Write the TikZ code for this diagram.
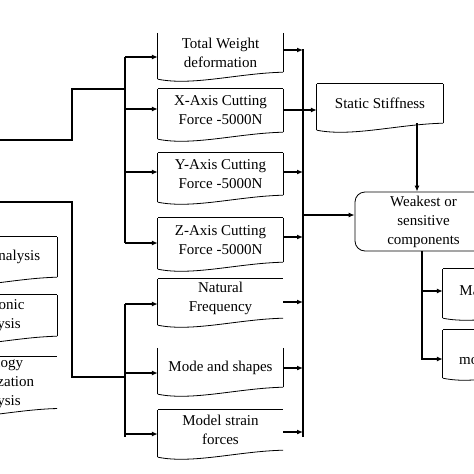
\documentclass[tikz,border=0pt]{standalone}
\usepackage{fontspec}
\setmainfont{Liberation Serif}
\usetikzlibrary{positioning,calc,arrows.meta}

\newcommand{\dtop}[1]{\draw[edge] (#1.north west) -- (#1.north east);}
\newcommand{\dleft}[1]{\draw[edge] (#1.north west) -- ([yshift=-7pt]#1.south west);}
\newcommand{\dright}[1]{\draw[edge] (#1.north east) -- (#1.south east);}
\newcommand{\dwave}[1]{\draw[edge] ([yshift=-7pt]#1.south west) .. controls +(35,7) and +(-45,1) .. (#1.south east);}

\begin{document}
\begin{tikzpicture}[x=1pt, y=-1pt,
		doc/.style={inner sep=0pt, align=center, minimum width=125pt, font=\fontsize{15}{19}\selectfont},
		edge/.style={line width=0.8pt},
		arr/.style={-{Latex[length=6pt,width=5pt]}, line width=1.8pt},
		bus/.style={line width=2.6pt}]
		\useasboundingbox (0,0) rectangle (474,474);
		\clip (0,0) rectangle (474,474);

		\node[doc, minimum height=39pt] (tw) at (220.5,52.5) {Total Weight\\ deformation};
		\node[doc, minimum height=43pt] (xcut) at (220.5,110.5) {X-Axis Cutting\\ Force -5000N};
		\node[doc, minimum height=42pt] (ycut) at (220.5,174) {Y-Axis Cutting\\ Force -5000N};
		\node[doc, minimum height=44pt] (zcut) at (220.5,240) {Z-Axis Cutting\\ Force -5000N};
		\node[doc, minimum height=39pt] (nat) at (220.5,298.5) {Natural\\ Frequency};
		\node[doc, minimum height=39pt] (mode) at (220.5,367.5) {Mode and shapes};
		\node[doc, minimum height=40pt] (strain) at (220.5,430) {Model strain\\ forces};
		\node[doc, minimum height=39pt, minimum width=126pt] (stat) at (380,103.5) {Static Stiffness};
		\node[doc, minimum height=59pt, minimum width=137pt, draw, edge, rounded corners=10pt] (weak) at (423.5,221.5) {Weakest or\\ sensitive\\ components};
		\node[doc, minimum height=42pt] (ma) at (505.5,290) {Mass reduction};
		\node[doc, minimum height=41pt, minimum width=109pt] (mb) at (497.5,350.5) {Design\\ modification};
		\node[doc, minimum height=40pt] (la) at (-5.5,257) {Modal analysis};
		\node[doc, minimum height=41pt] (lb) at (-5.5,315.5) {Harmonic\\ Analysis};
		\node[doc, minimum height=51pt] (lc) at (-5.5,382.5) {Topology\\ Optimization\\ Analysis};

		\foreach \b in {xcut,ycut,zcut,nat,strain,stat,ma,mb,la,lb,lc} {\dtop{\b}}
		\foreach \b in {tw,xcut,ycut,zcut,nat,mode,strain,stat,ma,mb} {\dleft{\b}}
		\foreach \b in {tw,xcut,ycut,zcut,mode,stat,la,lb} {\dright{\b}}
		\foreach \b in {tw,xcut,ycut,zcut,nat,mode,strain,stat,ma,mb,la,lb,lc} {\dwave{\b}}

		\coordinate (fa) at (-10,140);
		\coordinate (fb) at (-10,202);
		\coordinate (ua) at (125,57);
		\coordinate (ub) at (125,243);
		\coordinate (da) at (125,304);
		\coordinate (db) at (125,437);
		\coordinate (ra) at (303,49);
		\coordinate (rb) at (303,437);

		\draw[bus] (fa) -| (72,89) -- (ua |- 0,89);
		\draw[bus] (fb) -| (72,377) -- (da |- 0,377);
		\draw[bus] (ua) -- (ub);
		\draw[bus] (da) -- (db);
		\draw[bus] (ra) -- (rb);

		\foreach \b/\y in {tw/57,xcut/109,ycut/172,zcut/243} {\draw[arr] (ua |- 0,\y) -- (\b.west |- 0,\y);}
		\foreach \b/\y in {nat/304,mode/373,strain/434} {\draw[arr] (da |- 0,\y) -- (\b.west |- 0,\y);}
		\foreach \b/\y in {tw/50,ycut/172,zcut/237,nat/302,mode/368,strain/432} {\draw[arr] (\b.east |- 0,\y) -- (ra |- 0,\y);}
		\draw[arr] (xcut.east |- 0,110) -- (stat.west |- 0,110);
		\draw[arr, line width=1.3pt] (ra |- 0,215) -- (weak.west |- 0,215);
		\draw[arr, line width=1.3pt] (stat.south -| 417,0) -- (weak.north -| 417,0);
		\draw[arr] (weak.south -| 422,0) |- (ma.west |- 0,291);
		\draw[arr] (weak.south -| 422,0) |- (mb.west |- 0,359);
	\end{tikzpicture}
\end{document}
